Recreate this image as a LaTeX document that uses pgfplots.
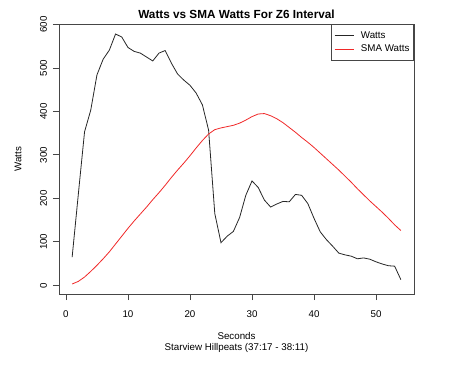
\documentclass[border=0pt]{standalone}
\usepackage{pgfplots}
\pgfplotsset{compat=1.18}
\usepackage{fontspec}
\setmainfont{Liberation Sans}
\definecolor{axgray}{RGB}{70,70,70}
\definecolor{rred}{RGB}{240,40,40}
\begin{document}
\begin{tikzpicture}
\path[use as bounding box] (-59bp,-72bp) rectangle (415bp,294bp);
\begin{axis}[
  at={(0,0)}, anchor=south west,
  scale only axis, width=355bp, height=270bp,
  xmin=-1.12, xmax=56.12, ymin=-20, ymax=601,
  xtick={0,10,...,50}, ytick={0,100,...,600},
  tick pos=left, tick align=outside, major tick length=6bp,
  axis line style={axgray, line width=0.8bp},
  tick style={axgray, line width=0.8bp},
  /pgf/number format/assume math mode=true,
  ticklabel style={font=\fontsize{9.8}{11}\selectfont},
  xticklabel style={inner ysep=10bp},
  yticklabel style={rotate=90, anchor=south, inner ysep=5.8bp},
  label style={font=\fontsize{9.8}{11}\selectfont},
  xlabel={Seconds},
  xlabel style={at={(axis description cs:0.5,-0.1556)}, anchor=center},
  ylabel={Watts},
  ylabel style={at={(axis description cs:-0.1155,0.5)}, anchor=center},
  title={Watts vs SMA Watts For Z6 Interval},
  title style={font=\fontsize{11.8}{13}\selectfont\bfseries, at={(axis description cs:0.5,1)}, anchor=center, yshift=4.2bp},
  legend style={at={(1,1)}, anchor=north east, draw=axgray, line width=0.8bp,
    font=\fontsize{9.8}{11}\selectfont, inner xsep=3bp, inner ysep=6bp,
    row sep=2.6bp, column sep=5.6bp, nodes={inner sep=1.2bp}},
  legend cell align=left,
  legend image code/.code={\draw[#1] (5bp,0bp) -- (24bp,0bp);},
  clip=false,
]
\addplot[black!85, line width=0.8bp] coordinates {
(1,65) (2,210) (3,353) (4,403) (5,484) (6,520) (7,541) (8,578) (9,571) (10,547)
(11,538) (12,534) (13,525) (14,516) (15,534) (16,540) (17,511) (18,486) (19,472) (20,460)
(21,442) (22,415) (23,357) (24,165) (25,98) (26,113) (27,124) (28,156) (29,207) (30,240)
(31,225) (32,196) (33,180) (34,187) (35,193) (36,192) (37,209) (38,207) (39,188) (40,154)
(41,123) (42,105) (43,90) (44,74) (45,70) (46,67) (47,61) (48,63) (49,60) (50,54)
(51,49) (52,45) (53,44) (54,13)
};
\addlegendentry{Watts}
\addplot[rred, line width=0.8bp] coordinates {
(1,3) (2,9) (3,19) (4,32) (5,46) (6,61) (7,77) (8,95) (9,113) (10,131)
(11,148) (12,164) (13,180) (14,197) (15,213) (16,230) (17,248) (18,265) (19,281) (20,298)
(21,316) (22,333) (23,348) (24,358) (25,362) (26,365) (27,368) (28,373) (29,380) (30,388)
(31,394) (32,395) (33,390) (34,383) (35,374) (36,363) (37,352) (38,340) (39,329) (40,317)
(41,304) (42,291) (43,278) (44,265) (45,251) (46,237) (47,222) (48,208) (49,194) (50,181)
(51,168) (52,154) (53,139) (54,126)
};
\addlegendentry{SMA Watts}
\node[font=\fontsize{9.8}{11}\selectfont, anchor=center] at (axis description cs:0.5,-0.2) {Starview Hillpeats (37:17 - 38:11)};
\end{axis}
\end{tikzpicture}
\end{document}
